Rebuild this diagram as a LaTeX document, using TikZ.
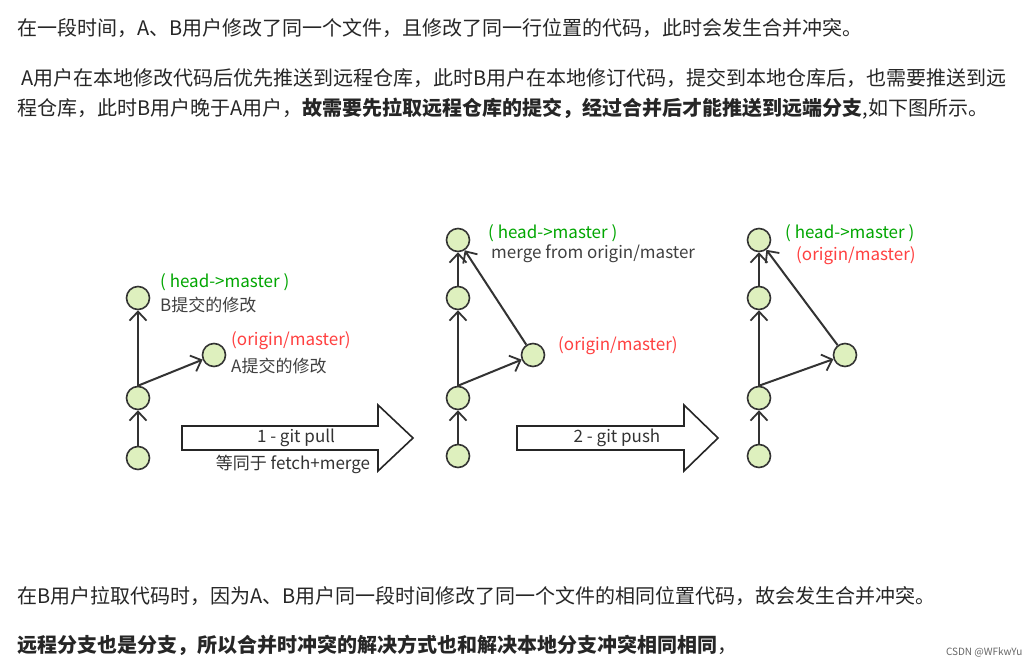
\documentclass[tikz,border=0pt]{standalone}
\usepackage{fontspec}
\setmainfont{Noto Sans CJK SC}
\usetikzlibrary{arrows.meta}
\definecolor{nodefill}{RGB}{222,240,190}
\begin{document}
\begin{tikzpicture}[x=1pt,y=-1pt,
  commit/.style={circle,draw=black!80,line width=1.6pt,fill=nodefill,minimum size=23pt,inner sep=0pt},
  link/.style={draw=black!80,line width=2pt,-{Straight Barb[length=9pt,width=17pt,line width=1.8pt]}},
  lbl/.style={anchor=west,font=\fontsize{17}{19}\selectfont,inner sep=0pt},
  grn/.style={lbl,text=green!65!black},
  rd/.style={lbl,text=red!75!white},
  gry/.style={lbl,text=black!75},
  txt/.style={anchor=west,font=\fontsize{20}{22}\selectfont,inner sep=0pt,text=black!85},
  big/.style={inner sep=0pt,font=\fontsize{17}{19}\selectfont,text=black!80},
  bigarrow/.style={draw=black!85,line width=1.6pt,fill=white}]
\useasboundingbox (0,0) rectangle (1030,667);
\fill[white] (0,0) rectangle (1030,667);
% text
\node[txt] (t1) at (17,28) {在一段时间，A、B用户修改了同一个文件，且修改了同一行位置的代码，此时会发生合并冲突。};
\node[txt] (t2) at (21,78) {A用户在本地修改代码后优先推送到远程仓库，此时B用户在本地修订代码，提交到本地仓库后，也需要推送到远};
\node[txt] (t3) at (17,109) {程仓库，此时B用户晚于A用户，\textbf{故需要先拉取远程仓库的提交，经过合并后才能推送到远端分支},如下图所示。};
\node[txt] (t4) at (17,596) {在B用户拉取代码时，因为A、B用户同一段时间修改了同一个文件的相同位置代码，故会发生合并冲突。};
\node[txt] (t5) at (17,645) {\textbf{远程分支也是分支，所以合并时冲突的解决方式也和解决本地分支冲突相同相同}，};
\node[anchor=east,font=\fontsize{10}{11}\selectfont,text=black!60] (wm) at (1026,652) {CSDN @WFkwYu};
% big arrows
\draw[bigarrow] (182,426) -- (378,426) -- (378,405) -- (413,438) -- (378,471) -- (378,450) -- (182,450) -- cycle;
\draw[bigarrow] (517,426) -- (684,426) -- (684,405) -- (718,438) -- (684,471) -- (684,450) -- (517,450) -- cycle;
\node[big] (p1) at (296,438) {1 - git pull};
\node[big] (p2) at (293,464) {等同于 fetch+merge};
\node[big] (p3) at (617,438) {2 - git push};
% diagram 1
\node[commit] (a1) at (138,458) {};
\node[commit] (a2) at (138,398) {};
\node[commit] (a3) at (138,298) {};
\node[commit] (a4) at (214,355) {};
\draw[link] (a1) -- (a2);
\draw[link] (a2) -- (a3);
\draw[link] (a2.north) -- (a4);
\node[grn] at (160,282) {( head->master )};
\node[gry] at (160,305) {B提交的修改};
\node[rd] at (231,341) {(origin/master)};
\node[gry] at (231,366) {A提交的修改};
% diagram 2
\node[commit] (b1) at (458,456) {};
\node[commit] (b2) at (458,398) {};
\node[commit] (b3) at (458,298) {};
\node[commit] (b4) at (458,240) {};
\node[commit] (b5) at (533,355) {};
\draw[link] (b1) -- (b2);
\draw[link] (b2) -- (b3);
\draw[link] (b3) -- (b4);
\draw[link] (b2.north) -- (b5);
\draw[link] (b5) -- (b4);
\node[grn] at (488,233) {( head->master )};
\node[gry] at (491,254) {merge from origin/master};
\node[rd] at (558,346) {(origin/master)};
% diagram 3
\node[commit] (c1) at (759,456) {};
\node[commit] (c2) at (759,398) {};
\node[commit] (c3) at (759,298) {};
\node[commit] (c4) at (759,240) {};
\node[commit] (c5) at (845,355) {};
\draw[link] (c1) -- (c2);
\draw[link] (c2) -- (c3);
\draw[link] (c3) -- (c4);
\draw[link] (c2.north) -- (c5);
\draw[link] (c5) -- (c4);
\node[grn] at (785,233) {( head->master )};
\node[rd] at (796,256) {(origin/master)};
\end{tikzpicture}
\end{document}
